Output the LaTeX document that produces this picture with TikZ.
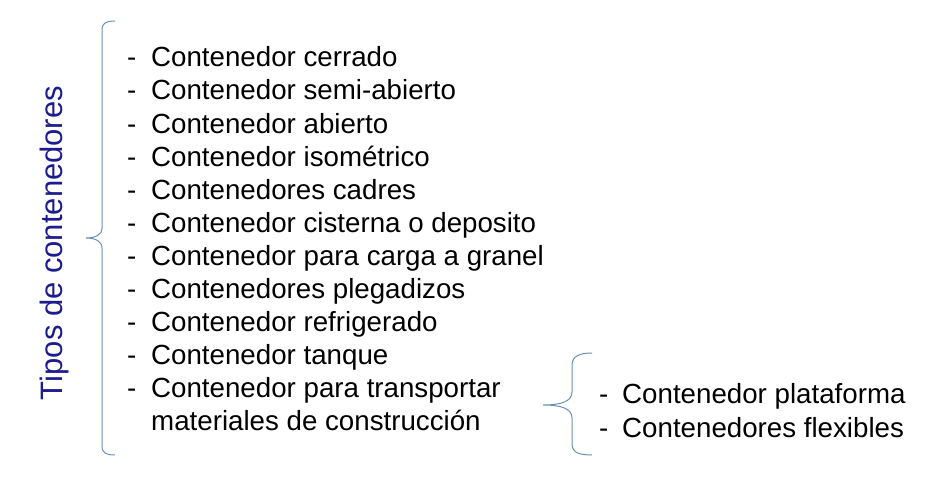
\documentclass[tikz,border=0pt]{standalone}
\usepackage{fontspec}
\setmainfont{Liberation Sans}
\definecolor{titleblue}{HTML}{1C1C8C}
\definecolor{bracecol}{HTML}{6A91B8}
\begin{document}
\begin{tikzpicture}[x=1pt,y=1pt,
  item/.style={anchor=base west,inner sep=0pt,font=\fontsize{27.7}{33}\selectfont,text=black},
  title/.style={anchor=base,rotate=90,inner sep=0pt,font=\fontsize{31}{37}\selectfont,text=titleblue},
  brace/.style={draw=bracecol,line width=1pt}]
\useasboundingbox (0,0) rectangle (939,-492);
\node[title] (t) at (62,-243) {Tipos de contenedores};
\foreach \txt [count=\i from 0] in {Contenedor cerrado,Contenedor semi-abierto,Contenedor abierto,Contenedor isométrico,Contenedores cadres,Contenedor cisterna o deposito,Contenedor para carga a granel,Contenedores plegadizos,Contenedor refrigerado,Contenedor tanque,Contenedor para transportar}{
  \node[item] (i\i) at (127,-67-33*\i) {\makebox[24pt][l]{-}\txt};
}
\node[item] (i11) at (151,-430) {materiales de construcción};
\node[item] (r0) at (599,-403) {\makebox[23pt][l]{-}Contenedor plataforma};
\node[item] (r1) at (599,-437) {\makebox[23pt][l]{-}Contenedores flexibles};
\draw[brace] (115,-21) .. controls (106,-21) and (102,-23) .. (102,-30) -- (102,-228)
  .. controls (102,-235) and (95,-238) .. (86,-238)
  .. controls (95,-238) and (102,-241) .. (102,-248) -- (102,-446)
  .. controls (102,-453) and (106,-455) .. (115,-455);
\draw[brace] (592,-353) .. controls (580,-353) and (572,-356) .. (572,-365) -- (572,-392)
  .. controls (572,-402) and (560,-405) .. (543,-405)
  .. controls (560,-405) and (572,-408) .. (572,-418) -- (572,-444)
  .. controls (572,-453) and (580,-455) .. (592,-455);
\end{tikzpicture}
\end{document}
